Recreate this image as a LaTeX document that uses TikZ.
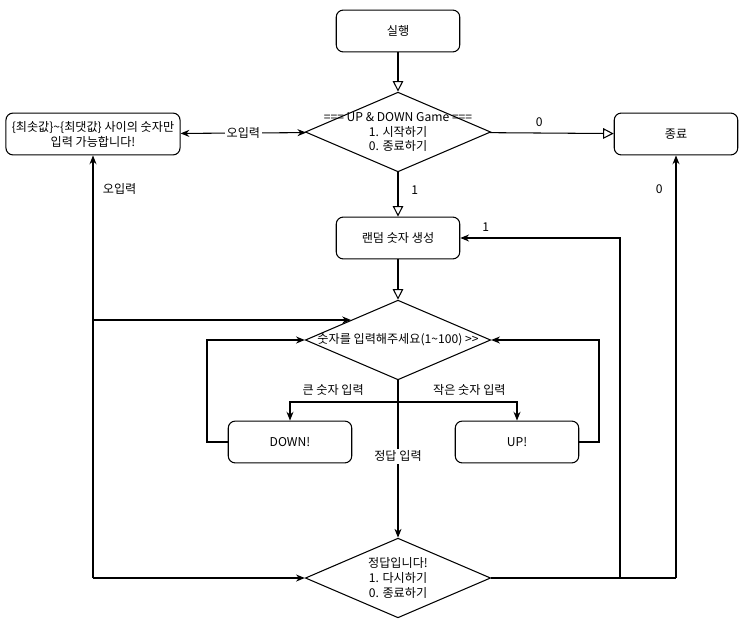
\documentclass[tikz,border=0pt]{standalone}
\usepackage{fontspec}
\setmainfont{Noto Sans CJK KR}
\usepackage{tikz}
\usetikzlibrary{arrows.meta}
\usetikzlibrary{shapes.geometric}

\newlength{\pxlen}
\setlength{\pxlen}{0.567pt}
\tikzset{
  box/.style={draw, rounded corners=4pt, minimum width=124\pxlen, minimum height=42\pxlen, align=center},
  choice/.style={draw, diamond, aspect=2.35, inner sep=0pt, minimum width=186\pxlen, minimum height=80\pxlen},
  open/.style={-{Triangle[open,length=6pt,width=6pt]}},
  flow/.style={-{Stealth[length=5pt,width=4pt]}},
  both/.style={{Stealth[length=5pt,width=4pt]}-{Stealth[length=5pt,width=4pt]}},
  tag/.style={fill=white, inner sep=1pt}
}

\begin{document}
\begin{tikzpicture}[x=0.02cm, y=-0.02cm, font=\fontsize{6.9}{8.5}\selectfont, semithick]
  \useasboundingbox (0,0) rectangle (750,625);
  \node[box] (run) at (398,31) {실행};
  \node[choice] (menu) at (398,132) {};
  \node[align=center] at (menu) {=== UP \& DOWN Game ===\\1. 시작하기\\0. 종료하기};
  \node[box] (quit) at (676,134) {종료};
  \node[box, minimum width=166\pxlen] (warn) at (93,134) {\{최솟값\}\textasciitilde\{최댓값\} 사이의 숫자만\\입력 가능합니다!};
  \node[box] (rand) at (398,238) {랜덤 숫자 생성};
  \node[choice] (ask) at (398,340) {};
  \node at (ask) {숫자를 입력해주세요(1\textasciitilde100) {>}{>}};
  \node[box] (down) at (290,442) {DOWN!};
  \node[box] (up) at (517,442) {UP!};
  \node[choice] (done) at (398,578) {};
  \node[align=center] at (done) {정답입니다!\\1. 다시하기\\0. 종료하기};

  \coordinate (split) at (398,402);
  \coordinate (low) at (93,578);
  \coordinate (mid) at (93,320);
  \coordinate (hit) at (351,320);
  \coordinate (back) at (620,578);
  \coordinate (exit) at (676,578);

  \draw[open] (run) -- (menu);
  \draw[both] (warn) -- node[tag] {오입력} (menu);
  \draw[open] (menu) -- node[above, pos=0.4] {0} (quit);
  \draw[open] (menu) -- node[right, pos=0.4, xshift=4pt] {1} (rand);
  \draw[open] (rand) -- (ask);

  \draw[flow] (low) -- node[right, pos=0.92, xshift=2pt] {오입력} (warn);
  \draw[flow] (mid) -- (hit);
  \draw[flow] (low) -- (done);

  \draw (done) -- (exit);
  \draw[flow] (exit) -- node[left, pos=0.92, xshift=-4pt] {0} (quit);
  \draw[flow] (back) |- node[above, pos=0.92] {1} (rand);

  \draw (ask.south) -- (split);
  \draw[flow] (split) -| node[above, pos=0.3] {큰 숫자 입력} (down);
  \draw[flow] (split) -| node[above, pos=0.3] {작은 숫자 입력} (up);
  \draw[flow] (split) -- node[tag, pos=0.4] {정답 입력} (done);

  \draw[flow] (down.west) -- (207,442) |- (ask.west);
  \draw[flow] (up.east) -- (599,442) |- (ask.east);
\end{tikzpicture}
\end{document}
